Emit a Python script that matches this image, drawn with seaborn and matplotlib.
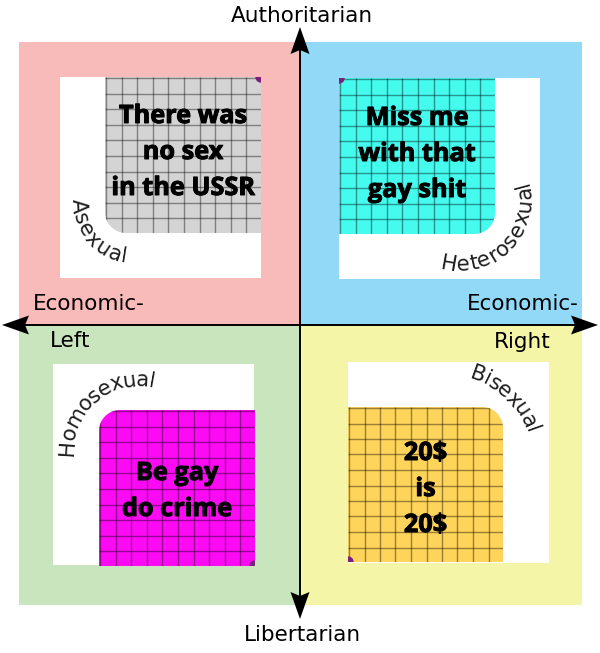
import numpy as np
import matplotlib
matplotlib.use("Agg")
import matplotlib.pyplot as plt
import matplotlib.patheffects as pe
from matplotlib.patches import Polygon, Rectangle, Circle
from matplotlib.font_manager import FontProperties, findfont, get_font
import seaborn as sns

# quadrants in order: auth-left, auth-right, lib-left, lib-right
quadrant_colors = ['#f9baba', '#92d9f8', '#c9e5bd', '#f5f5a7']
card_colors = ['#d4d4d4', '#44fbee', '#fd0af5', '#ffd45b']
card_texts = [['There was', 'no sex', 'in the USSR'],
              ['Miss me', 'with that', 'gay shit'],
              ['Be gay', 'do crime'],
              ['20$', 'is', '20$']]
orientation_labels = ['Asexual', 'Heterosexual', 'Homosexual', 'Bisexual']
axis_top = 'Authoritarian'
axis_bottom = 'Libertarian'
axis_left = ['Economic-', 'Left']
axis_right = ['Economic-', 'Right']

sns.set_theme(style='white')
plt.rcParams['font.family'] = ['DejaVu Sans']

W, H = 600, 653
fig = plt.figure(figsize=(6, 6.53), dpi=100)
ax = fig.add_axes([0, 0, 1, 1])
ax.set_xlim(0, W)
ax.set_ylim(H, 0)  # pixel coords, y down
ax.set_axis_off()

# quadrant backgrounds
quad_boxes = [(19, 42, 281, 283), (300, 42, 282, 283), (19, 325, 281, 280), (300, 325, 282, 280)]
for (x, y, w, h), c in zip(quad_boxes, quadrant_colors):
    ax.add_patch(Rectangle((x, y), w, h, color=c, lw=0, zorder=1))

# white panels behind the cards
white_boxes = [(60, 77), (339, 78), (53, 364), (348, 362)]
for x, y in white_boxes:
    ax.add_patch(Rectangle((x, y), 201, 201, color='white', lw=0, zorder=2))


def card_path(x0, y0, s, corner, r=21):
    # square with one rounded corner, screen coords (y down)
    x1, y1 = x0 + s, y0 + s
    arcs = {'tl': ((x0 + r, y0 + r), 180, 90), 'tr': ((x1 - r, y0 + r), 90, 0),
            'br': ((x1 - r, y1 - r), 0, -90), 'bl': ((x0 + r, y1 - r), -90, -180)}
    pts = {'tl': (x0, y0), 'tr': (x1, y0), 'br': (x1, y1), 'bl': (x0, y1)}
    verts = []
    for k in ['tl', 'tr', 'br', 'bl']:
        if k == corner:
            (ccx, ccy), a0, a1 = arcs[k]
            t = np.radians(np.linspace(a0, a1, 20))
            verts += list(zip(ccx + r * np.cos(t), ccy - r * np.sin(t)))
        else:
            verts.append(pts[k])
    return verts


cards = [(105, 77, 156, 'bl'), (339, 78, 156, 'br'), (99, 410, 156, 'tl'), (348, 407, 155, 'tr')]
dot_corner = {'bl': (1, 0), 'br': (0, 0), 'tl': (1, 1), 'tr': (0, 1)}
first_baseline = [46, 47, 70, 53]
bold_font = dict(family=['Open Sans', 'DejaVu Sans'], weight='bold', size=18.2)
heavier = [pe.withStroke(linewidth=0.7, foreground='black')]

for (x0, y0, s, corner), color, lines, fb in zip(cards, card_colors, card_texts, first_baseline):
    patch = Polygon(card_path(x0, y0, s, corner), closed=True, fc=color, ec='none', zorder=3)
    ax.add_patch(patch)
    # 10x10 grid, snapped to pixel centres so lines stay crisp
    ticks = np.round(np.linspace(0, s, 11)) + 0.5
    vl = ax.vlines(x0 + ticks, y0, y0 + s, color='black', alpha=0.4, lw=1.0, zorder=4)
    hl = ax.hlines(y0 + ticks, x0, x0 + s, color='black', alpha=0.4, lw=1.0, zorder=4)
    vl.set_clip_path(patch)
    hl.set_clip_path(patch)
    fx, fy = dot_corner[corner]
    dot = Circle((x0 + fx * s, y0 + fy * s), 5, color='#7b1f7b', zorder=5)
    ax.add_patch(dot)
    dot.set_clip_path(patch)
    for i, line in enumerate(lines):
        ax.text(x0 + s / 2, y0 + fb + 36 * i, line, ha='center', va='baseline',
                color='black', zorder=6, path_effects=heavier, **bold_font)


def arc_text(s, center, rc, mid_deg, ccw, size=15.3, lift=6):
    # rc: radius through the middle of the letters; spacing measured there
    fp = FontProperties(family='DejaVu Sans', size=size)
    font = get_font(findfont(fp))
    font.set_size(size, 100)
    adv = [font.load_char(ord(ch)).linearHoriAdvance / 65536 for ch in s]
    sign = 1 if ccw else -1
    rb = rc + lift if ccw else rc - lift  # baseline radius
    span = (sum(adv) - adv[0] / 2 - adv[-1] / 2) / rc
    t = np.radians(mid_deg) - sign * (span / 2 + adv[0] / 2 / rc)
    for ch, a in zip(s, adv):
        d = a / rc
        tc = t + sign * d / 2
        x = center[0] + rb * np.cos(tc)
        y = center[1] - rb * np.sin(tc)
        ax.text(x, y, ch, rotation=np.degrees(tc) + sign * 90, ha='center', va='baseline',
                rotation_mode='anchor', fontproperties=fp, color='#1e1e1e', zorder=6)
        t += sign * d


# centre, mid-letter radius, middle angle, counter-clockwise
arcs = [((132, 203), 54, 222, True), ((460, 200), 65, 317.5, True),
        ((139, 452), 72, 128, False), ((447, 460), 90, 45, False)]
for label, (c, r, mid, ccw) in zip(orientation_labels, arcs):
    arc_text(label, c, r, mid, ccw)

# compass axes
ax.plot([300, 300], [40, 605], color='black', lw=1.4, zorder=7)
ax.plot([15, 585], [325, 325], color='black', lw=1.4, zorder=7)


def arrow_head(tip, direction, length=27, half=9.5, notch=4):
    d = np.array(direction, float)
    n = np.array([-d[1], d[0]])
    tip = np.array(tip, float)
    base = tip - d * length
    pts = [tip, base + n * half, tip - d * (length - notch), base - n * half]
    ax.add_patch(Polygon(pts, closed=True, color='black', lw=0, zorder=8))


arrow_head((300, 27), (0, -1))
arrow_head((300, 619), (0, 1))
arrow_head((2, 325), (-1, 0))
arrow_head((598, 325), (1, 0))

fs = 15.5
ax.text(302, 21.5, axis_top, ha='center', va='baseline', fontsize=fs, color='black')
ax.text(302, 641, axis_bottom, ha='center', va='baseline', fontsize=fs, color='black')
ax.text(33, 310, axis_left[0], ha='left', va='baseline', fontsize=fs, color='black', zorder=9)
ax.text(50, 347, axis_left[1], ha='left', va='baseline', fontsize=fs, color='black', zorder=9)
ax.text(579, 310, axis_right[0], ha='right', va='baseline', fontsize=fs, color='black', zorder=9)
ax.text(551, 348, axis_right[1], ha='right', va='baseline', fontsize=fs, color='black', zorder=9)

fig.savefig('out.png', dpi=100)
